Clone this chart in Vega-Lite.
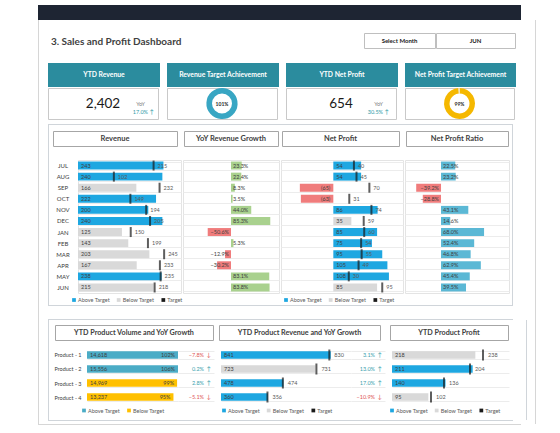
{
"$schema": "https://vega.github.io/schema/vega-lite/v6.json",
"padding": {"left": 38, "top": 5, "right": 0, "bottom": 0},
"background": "#ffffff",
"config": {"font": "Lato", "view": {"stroke": null}, "text": {"font": "Lato"}, "concat": {"spacing": 0}},
"datasets": {
"monthly": [
{"month":"JUL","revenue":243,"revTarget":215,"yoy":0.233,"np":54,"npTarget":40,"ratio":0.225},
{"month":"AUG","revenue":240,"revTarget":102,"yoy":0.224,"np":54,"npTarget":45,"ratio":0.232},
{"month":"SEP","revenue":166,"revTarget":232,"yoy":0.083,"np":-65,"npTarget":70,"ratio":-0.392},
{"month":"OCT","revenue":222,"revTarget":149,"yoy":0.035,"np":-63,"npTarget":31,"ratio":-0.288},
{"month":"NOV","revenue":200,"revTarget":194,"yoy":0.44,"np":86,"npTarget":74,"ratio":0.431},
{"month":"DEC","revenue":240,"revTarget":205,"yoy":0.853,"np":35,"npTarget":59,"ratio":0.146},
{"month":"JAN","revenue":125,"revTarget":150,"yoy":-0.506,"np":85,"npTarget":60,"ratio":0.68},
{"month":"FEB","revenue":143,"revTarget":199,"yoy":0.053,"np":75,"npTarget":54,"ratio":0.524},
{"month":"MAR","revenue":203,"revTarget":245,"yoy":-0.129,"np":95,"npTarget":55,"ratio":0.468},
{"month":"APR","revenue":167,"revTarget":233,"yoy":-0.302,"np":105,"npTarget":49,"ratio":0.629},
{"month":"MAY","revenue":238,"revTarget":235,"yoy":0.831,"np":108,"npTarget":30,"ratio":0.454},
{"month":"JUN","revenue":215,"revTarget":218,"yoy":0.838,"np":85,"npTarget":95,"ratio":0.395}
],
"products": [
{"product":"Product - 1","vol":14618,"volAch":1.02,"volYoy":-0.078,"rev":841,"revTarget":830,"revYoy":0.031,"profit":218,"profitTarget":238},
{"product":"Product - 2","vol":15556,"volAch":1.06,"volYoy":0.002,"rev":723,"revTarget":731,"revYoy":0.13,"profit":211,"profitTarget":204},
{"product":"Product - 3","vol":14969,"volAch":0.99,"volYoy":0.028,"rev":478,"revTarget":474,"revYoy":0.17,"profit":140,"profitTarget":136},
{"product":"Product - 4","vol":13237,"volAch":0.95,"volYoy":-0.051,"rev":360,"revTarget":356,"revYoy":-0.109,"profit":95,"profitTarget":102}
]
},
"spacing": 0,
"vconcat": [
{"width": 483, "height": 15, "data": {"values": []}, "mark": "point", "encoding": {}, "view": {"fill": "#1e2533"}},
{"spacing": 8, "hconcat": [
 {"width": 1, "height": 404, "data": {"values": []}, "mark": "point", "encoding": {}, "view": {"fill": "#d6d6d6"}},
 {"spacing": 0, "vconcat": [
  {"width": 1, "height": 12, "data": {"values": []}, "mark": "point", "encoding": {}},
  {"spacing": -2, "hconcat": [
   {"width": 316, "height": 17, "data": {"values": [{"t": "3. Sales and Profit Dashboard"}]}, "mark": {"type": "text", "align": "left", "dx": 3, "fontSize": 10, "fontWeight": "bold", "color": "#3f3f3f"}, "encoding": {"text": {"field": "t"}, "x": {"datum": 0, "type": "quantitative", "scale": {"domain": [0, 1]}, "axis": null}}},
   {"width": 71, "height": 15, "view": {"stroke": "#bfbfbf"}, "data": {"values": [{"h": "Select Month"}]}, "mark": {"type": "text", "fontSize": 6, "fontWeight": "bold", "color": "#1a1a1a"}, "encoding": {"text": {"field": "h"}}},
   {"width": 79, "height": 15, "view": {"stroke": "#bfbfbf"}, "data": {"values": [{"h": "JUN"}]}, "mark": {"type": "text", "fontSize": 6, "fontWeight": "bold", "color": "#1a1a1a"}, "encoding": {"text": {"field": "h"}}}
  ]},
  {"width": 1, "height": 13, "data": {"values": []}, "mark": "point", "encoding": {}},
  {"spacing": 6, "hconcat": [
   {"spacing": 0, "vconcat": [
    {"width": 112, "height": 24, "view": {"fill": "#2b8c9e"}, "data": {"values": [{"h": "YTD Revenue"}]}, "mark": {"type": "text", "color": "white", "fontWeight": "bold", "fontSize": 6.8}, "encoding": {"text": {"field": "h"}}},
    {"width": 110, "height": 31, "view": {"stroke": "#c9c9c9"}, "data": {"values": [{"value": 2402, "yoy": 0.17}]}, "layer": [
     {"mark": {"type": "text", "fontSize": 13.5, "color": "#1a1a1a"}, "encoding": {"text": {"field": "value", "type": "quantitative", "format": ","}}},
     {"mark": {"type": "text", "text": "YoY", "fontSize": 5.5, "color": "#7f7f7f", "align": "right", "dx": 42, "dy": 0}, "encoding": {}},
     {"mark": {"type": "text", "fontSize": 5.5, "color": "#2e9aa8", "align": "right", "dx": 45, "dy": 8}, "encoding": {"text": {"field": "yoy", "type": "quantitative", "format": ".1%"}}},
     {"mark": {"type": "text", "text": "↑", "fontSize": 6, "color": "#2e9aa8", "align": "right", "dx": 51, "dy": 8}, "encoding": {}}
    ]}
   ]},
   {"spacing": 0, "vconcat": [
    {"width": 112, "height": 24, "view": {"fill": "#2b8c9e"}, "data": {"values": [{"h": "Revenue Target Achievement"}]}, "mark": {"type": "text", "color": "white", "fontWeight": "bold", "fontSize": 6.8}, "encoding": {"text": {"field": "h"}}},
    {"width": 110, "height": 31, "view": {"stroke": "#c9c9c9"}, "layer": [
     {"data": {"values": [{"part": "Achieved", "v": 1.01}, {"part": "Remaining", "v": 0}]}, "mark": {"type": "arc", "radius": 15.5, "radius2": 10}, "encoding": {"theta": {"field": "v", "type": "quantitative", "scale": {"domain": [0, 1]}}, "color": {"condition": {"test": "datum.part == 'Achieved'", "value": "#38a6c3"}, "value": "#e6e6e6"}}},
     {"data": {"values": [{"pct": 1.01}]}, "mark": {"type": "text", "fontSize": 5, "fontWeight": "bold", "color": "#262626"}, "encoding": {"text": {"field": "pct", "type": "quantitative", "format": ".0%"}}}
    ]}
   ]},
   {"spacing": 0, "vconcat": [
    {"width": 112, "height": 24, "view": {"fill": "#2b8c9e"}, "data": {"values": [{"h": "YTD Net Profit"}]}, "mark": {"type": "text", "color": "white", "fontWeight": "bold", "fontSize": 6.8}, "encoding": {"text": {"field": "h"}}},
    {"width": 110, "height": 31, "view": {"stroke": "#c9c9c9"}, "data": {"values": [{"value": 654, "yoy": 0.305}]}, "layer": [
     {"mark": {"type": "text", "fontSize": 13.5, "color": "#1a1a1a"}, "encoding": {"text": {"field": "value", "type": "quantitative", "format": ","}}},
     {"mark": {"type": "text", "text": "YoY", "fontSize": 5.5, "color": "#7f7f7f", "align": "right", "dx": 42, "dy": 0}, "encoding": {}},
     {"mark": {"type": "text", "fontSize": 5.5, "color": "#2e9aa8", "align": "right", "dx": 42, "dy": 8}, "encoding": {"text": {"field": "yoy", "type": "quantitative", "format": ".1%"}}},
     {"mark": {"type": "text", "text": "↑", "fontSize": 6, "color": "#2e9aa8", "align": "right", "dx": 48, "dy": 8}, "encoding": {}}
    ]}
   ]},
   {"spacing": 0, "vconcat": [
    {"width": 111, "height": 24, "view": {"fill": "#2b8c9e"}, "data": {"values": [{"h": "Net Profit Target Achievement"}]}, "mark": {"type": "text", "color": "white", "fontWeight": "bold", "fontSize": 6.8}, "encoding": {"text": {"field": "h"}}},
    {"width": 109, "height": 31, "view": {"stroke": "#c9c9c9"}, "layer": [
     {"data": {"values": [{"part": "Achieved", "v": 0.99}, {"part": "Remaining", "v": 0.01}]}, "mark": {"type": "arc", "radius": 15.5, "radius2": 10}, "encoding": {"theta": {"field": "v", "type": "quantitative", "scale": {"domain": [0, 1]}}, "color": {"condition": {"test": "datum.part == 'Achieved'", "value": "#f5b800"}, "value": "#ececec"}}},
     {"data": {"values": [{"pct": 0.99}]}, "mark": {"type": "text", "fontSize": 5, "fontWeight": "bold", "color": "#262626"}, "encoding": {"text": {"field": "pct", "type": "quantitative", "format": ".0%"}}}
    ]}
   ]}
  ]},
  {"width": 1, "height": 4, "data": {"values": []}, "mark": "point", "encoding": {}},
  {"spacing": 0, "vconcat": [
   {"width": 465, "height": 1, "data": {"values": []}, "mark": "point", "encoding": {}, "view": {"fill": "#d0d5da"}},
   {"spacing": 0, "hconcat": [
    {"width": 1, "height": 180, "data": {"values": []}, "mark": "point", "encoding": {}, "view": {"fill": "#d0d5da"}},
    {"spacing": 0, "vconcat": [
     {"width": 1, "height": 5, "data": {"values": []}, "mark": "point", "encoding": {}},
     {"spacing": 0, "hconcat": [
      {"width": 3, "height": 1, "data": {"values": []}, "mark": "point", "encoding": {}},
      {"width": 124, "height": 15, "view": {"stroke": "#a6a6a6"}, "data": {"values": [{"h": "Revenue"}]}, "mark": {"type": "text", "fontSize": 7.5, "fontWeight": "bold", "color": "#404040"}, "encoding": {"text": {"field": "h"}}},
      {"width": 5, "height": 1, "data": {"values": []}, "mark": "point", "encoding": {}},
      {"width": 94, "height": 15, "view": {"stroke": "#a6a6a6"}, "data": {"values": [{"h": "YoY Revenue Growth"}]}, "mark": {"type": "text", "fontSize": 7.5, "fontWeight": "bold", "color": "#404040"}, "encoding": {"text": {"field": "h"}}},
      {"width": 2, "height": 1, "data": {"values": []}, "mark": "point", "encoding": {}},
      {"width": 117, "height": 15, "view": {"stroke": "#a6a6a6"}, "data": {"values": [{"h": "Net Profit"}]}, "mark": {"type": "text", "fontSize": 7.5, "fontWeight": "bold", "color": "#404040"}, "encoding": {"text": {"field": "h"}}},
      {"width": 5, "height": 1, "data": {"values": []}, "mark": "point", "encoding": {}},
      {"width": 102, "height": 15, "view": {"stroke": "#a6a6a6"}, "data": {"values": [{"h": "Net Profit Ratio"}]}, "mark": {"type": "text", "fontSize": 7.5, "fontWeight": "bold", "color": "#404040"}, "encoding": {"text": {"field": "h"}}}
     ]},
     {"width": 1, "height": 12, "data": {"values": []}, "mark": "point", "encoding": {}},
     {"spacing": 0, "hconcat": [
      {"width": 28, "height": 134, "data": {"name": "monthly"}, "mark": {"type": "text", "fontSize": 6, "color": "#404040"}, "encoding": {"y": {"field": "month", "type": "nominal", "scale": {"domain": ["JUL","AUG","SEP","OCT","NOV","DEC","JAN","FEB","MAR","APR","MAY","JUN"], "paddingInner": 0.28, "paddingOuter": 0.14}, "axis": null}, "text": {"field": "month"}}},
      {"width": 103, "height": 133, "data": {"name": "monthly"}, "view": {"stroke": "#e4e4e4"},
       "encoding": {"y": {"field": "month", "type": "nominal", "scale": {"domain": ["JUL","AUG","SEP","OCT","NOV","DEC","JAN","FEB","MAR","APR","MAY","JUN"], "paddingInner": 0.28, "paddingOuter": 0.14}, "axis": {"title": null, "labels": false, "ticks": false, "domain": false, "grid": true, "tickBand": "extent", "gridColor": "#ececec"}}},
       "layer": [
        {"mark": {"type": "bar"}, "encoding": {"x": {"field": "revenue", "type": "quantitative", "scale": {"domain": [0, 293]}, "axis": null}, "color": {"condition": {"test": "datum.revenue >= datum.revTarget", "value": "#1ea7e1"}, "value": "#d9d9d9"}}},
        {"mark": {"type": "tick", "thickness": 2, "size": 10, "color": "#1a1a1a"}, "encoding": {"x": {"field": "revTarget", "type": "quantitative", "scale": {"domain": [0, 293]}, "axis": null}}},
        {"mark": {"type": "text", "align": "left", "dx": 3, "fontSize": 5.5, "color": "#404040"}, "encoding": {"x": {"datum": 0, "type": "quantitative", "scale": {"domain": [0, 293]}, "axis": null}, "text": {"field": "revenue", "type": "quantitative"}}},
        {"mark": {"type": "text", "align": "left", "dx": 4, "fontSize": 5.5, "color": "#595959"}, "encoding": {"x": {"field": "revTarget", "type": "quantitative", "scale": {"domain": [0, 293]}, "axis": null}, "text": {"field": "revTarget", "type": "quantitative"}}}
       ]},
      {"width": 96, "height": 133, "data": {"name": "monthly"}, "view": {"stroke": "#e4e4e4"},
       "encoding": {"y": {"field": "month", "type": "nominal", "scale": {"domain": ["JUL","AUG","SEP","OCT","NOV","DEC","JAN","FEB","MAR","APR","MAY","JUN"], "paddingInner": 0.28, "paddingOuter": 0.14}, "axis": {"title": null, "labels": false, "ticks": false, "domain": false, "grid": true, "tickBand": "extent", "gridColor": "#ececec"}}},
       "layer": [
        {"mark": {"type": "bar"}, "encoding": {"x": {"field": "yoy", "type": "quantitative", "scale": {"domain": [-1.043, 1.043]}, "axis": null}, "color": {"condition": {"test": "datum.yoy < 0", "value": "#f07c7c"}, "value": "#a9d18e"}}},
        {"transform": [{"filter": "datum.yoy >= 0"}], "mark": {"type": "text", "align": "left", "dx": 2, "fontSize": 5.5, "color": "#404040"}, "encoding": {"x": {"datum": 0, "type": "quantitative", "scale": {"domain": [-1.043, 1.043]}, "axis": null}, "text": {"field": "yoy", "type": "quantitative", "format": ".1%"}}},
        {"transform": [{"filter": "datum.yoy < 0"}], "mark": {"type": "text", "align": "right", "dx": -2, "fontSize": 5.5, "color": "#404040"}, "encoding": {"x": {"datum": 0, "type": "quantitative", "scale": {"domain": [-1.043, 1.043]}, "axis": null}, "text": {"field": "yoy", "type": "quantitative", "format": ".1%"}}}
       ]},
      {"width": 122, "height": 133, "data": {"name": "monthly"}, "view": {"stroke": "#e4e4e4"},
       "encoding": {"y": {"field": "month", "type": "nominal", "scale": {"domain": ["JUL","AUG","SEP","OCT","NOV","DEC","JAN","FEB","MAR","APR","MAY","JUN"], "paddingInner": 0.28, "paddingOuter": 0.14}, "axis": {"title": null, "labels": false, "ticks": false, "domain": false, "grid": true, "tickBand": "extent", "gridColor": "#ececec"}}},
       "layer": [
        {"mark": {"type": "bar"}, "encoding": {"x": {"field": "np", "type": "quantitative", "scale": {"domain": [-101.6, 135.3]}, "axis": null}, "color": {"condition": [{"test": "datum.np < 0", "value": "#f07c7c"}, {"test": "datum.np >= datum.npTarget", "value": "#1ea7e1"}], "value": "#d9d9d9"}}},
        {"mark": {"type": "tick", "thickness": 2, "size": 10, "color": "#1a1a1a"}, "encoding": {"x": {"field": "npTarget", "type": "quantitative", "scale": {"domain": [-101.6, 135.3]}, "axis": null}}},
        {"transform": [{"filter": "datum.np >= 0"}], "mark": {"type": "text", "align": "left", "dx": 3, "fontSize": 5.5, "color": "#404040"}, "encoding": {"x": {"datum": 0, "type": "quantitative", "scale": {"domain": [-101.6, 135.3]}, "axis": null}, "text": {"field": "np", "type": "quantitative", "format": "(d"}}},
        {"transform": [{"filter": "datum.np < 0"}], "mark": {"type": "text", "align": "right", "dx": -3, "fontSize": 5.5, "color": "#404040"}, "encoding": {"x": {"datum": 0, "type": "quantitative", "scale": {"domain": [-101.6, 135.3]}, "axis": null}, "text": {"field": "np", "type": "quantitative", "format": "(d"}}},
        {"mark": {"type": "text", "align": "left", "dx": 4, "fontSize": 5.5, "color": "#595959"}, "encoding": {"x": {"field": "npTarget", "type": "quantitative", "scale": {"domain": [-101.6, 135.3]}, "axis": null}, "text": {"field": "npTarget", "type": "quantitative"}}}
       ]},
      {"width": 104, "height": 133, "data": {"name": "monthly"}, "view": {"stroke": "#e4e4e4"},
       "encoding": {"y": {"field": "month", "type": "nominal", "scale": {"domain": ["JUL","AUG","SEP","OCT","NOV","DEC","JAN","FEB","MAR","APR","MAY","JUN"], "paddingInner": 0.28, "paddingOuter": 0.14}, "axis": {"title": null, "labels": false, "ticks": false, "domain": false, "grid": true, "tickBand": "extent", "gridColor": "#ececec"}}},
       "layer": [
        {"mark": {"type": "bar"}, "encoding": {"x": {"field": "ratio", "type": "quantitative", "scale": {"domain": [-0.569, 1.074]}, "axis": null}, "color": {"condition": {"test": "datum.ratio < 0", "value": "#f07c7c"}, "value": "#5bb8d5"}}},
        {"transform": [{"filter": "datum.ratio >= 0"}], "mark": {"type": "text", "align": "left", "dx": 2, "fontSize": 5.5, "color": "#404040"}, "encoding": {"x": {"datum": 0, "type": "quantitative", "scale": {"domain": [-0.569, 1.074]}, "axis": null}, "text": {"field": "ratio", "type": "quantitative", "format": ".1%"}}},
        {"transform": [{"filter": "datum.ratio < 0"}], "mark": {"type": "text", "align": "right", "dx": -2, "fontSize": 5.5, "color": "#404040"}, "encoding": {"x": {"datum": 0, "type": "quantitative", "scale": {"domain": [-0.569, 1.074]}, "axis": null}, "text": {"field": "ratio", "type": "quantitative", "format": ".1%"}}}
       ]},
      {"width": 2, "height": 1, "data": {"values": []}, "mark": "point", "encoding": {}}
     ]},
     {"width": 1, "height": 1, "data": {"values": []}, "mark": "point", "encoding": {}},
     {"spacing": 0, "hconcat": [
      {"width": 23, "height": 1, "data": {"values": []}, "mark": "point", "encoding": {}},
      {"width": 134, "height": 10, "data": {"values": [{"k": "Above Target"}, {"k": "Below Target"}, {"k": "Target"}]}, "encoding": {"x": {"field": "k", "type": "nominal", "scale": {"type": "point", "padding": 0, "domain": ["Above Target", "Below Target", "Target", "~"]}, "axis": null}}, "layer": [
       {"mark": {"type": "square", "size": 14, "opacity": 1}, "encoding": {"color": {"condition": [{"test": "datum.k == 'Above Target'", "value": "#1ea7e1"}, {"test": "datum.k == 'Target'", "value": "#1a1a1a"}], "value": "#d9d9d9"}}},
       {"mark": {"type": "text", "align": "left", "dx": 4, "fontSize": 5.5, "color": "#595959"}, "encoding": {"text": {"field": "k"}}}
      ]},
      {"width": 76, "height": 1, "data": {"values": []}, "mark": "point", "encoding": {}},
      {"width": 134, "height": 10, "data": {"values": [{"k": "Above Target"}, {"k": "Below Target"}, {"k": "Target"}]}, "encoding": {"x": {"field": "k", "type": "nominal", "scale": {"type": "point", "padding": 0, "domain": ["Above Target", "Below Target", "Target", "~"]}, "axis": null}}, "layer": [
       {"mark": {"type": "square", "size": 14, "opacity": 1}, "encoding": {"color": {"condition": [{"test": "datum.k == 'Above Target'", "value": "#1ea7e1"}, {"test": "datum.k == 'Target'", "value": "#1a1a1a"}], "value": "#d9d9d9"}}},
       {"mark": {"type": "text", "align": "left", "dx": 4, "fontSize": 5.5, "color": "#595959"}, "encoding": {"text": {"field": "k"}}}
      ]}
     ]}
    ]},
    {"width": 1, "height": 180, "data": {"values": []}, "mark": "point", "encoding": {}, "view": {"fill": "#d0d5da"}}
   ]},
   {"width": 465, "height": 1, "data": {"values": []}, "mark": "point", "encoding": {}, "view": {"fill": "#d0d5da"}}
  ]},
  {"width": 1, "height": 13, "data": {"values": []}, "mark": "point", "encoding": {}},
  {"spacing": 0, "vconcat": [
   {"width": 465, "height": 1, "data": {"values": []}, "mark": "point", "encoding": {}, "view": {"fill": "#d0d5da"}},
   {"spacing": 0, "hconcat": [
    {"width": 1, "height": 100, "data": {"values": []}, "mark": "point", "encoding": {}, "view": {"fill": "#d0d5da"}},
    {"spacing": 0, "vconcat": [
     {"width": 1, "height": 4, "data": {"values": []}, "mark": "point", "encoding": {}},
     {"spacing": 0, "hconcat": [
      {"width": 5, "height": 1, "data": {"values": []}, "mark": "point", "encoding": {}},
      {"width": 158, "height": 15, "view": {"stroke": "#a6a6a6"}, "data": {"values": [{"h": "YTD Product Volume and YoY Growth"}]}, "mark": {"type": "text", "fontSize": 7.2, "fontWeight": "bold", "color": "#404040"}, "encoding": {"text": {"field": "h"}}},
      {"width": 4, "height": 1, "data": {"values": []}, "mark": "point", "encoding": {}},
      {"width": 161, "height": 15, "view": {"stroke": "#a6a6a6"}, "data": {"values": [{"h": "YTD Product Revenue and YoY Growth"}]}, "mark": {"type": "text", "fontSize": 7.2, "fontWeight": "bold", "color": "#404040"}, "encoding": {"text": {"field": "h"}}},
      {"width": 8, "height": 1, "data": {"values": []}, "mark": "point", "encoding": {}},
      {"width": 118, "height": 15, "view": {"stroke": "#a6a6a6"}, "data": {"values": [{"h": "YTD Product Profit"}]}, "mark": {"type": "text", "fontSize": 7.2, "fontWeight": "bold", "color": "#404040"}, "encoding": {"text": {"field": "h"}}},
      {"width": 3, "height": 1, "data": {"values": []}, "mark": "point", "encoding": {}}
     ]},
     {"width": 1, "height": 7, "data": {"values": []}, "mark": "point", "encoding": {}},
     {"spacing": 0, "hconcat": [
      {"width": 38, "height": 57, "data": {"name": "products"}, "mark": {"type": "text", "fontSize": 5.5, "color": "#404040"}, "encoding": {"y": {"field": "product", "type": "nominal", "scale": {"domain": ["Product - 1","Product - 2","Product - 3","Product - 4"], "paddingInner": 0.45, "paddingOuter": 0.225}, "axis": null}, "text": {"field": "product"}}},
      {"width": 91, "height": 56, "data": {"name": "products"},
       "encoding": {"y": {"field": "product", "type": "nominal", "scale": {"domain": ["Product - 1","Product - 2","Product - 3","Product - 4"], "paddingInner": 0.45, "paddingOuter": 0.225}, "axis": {"title": null, "labels": false, "ticks": false, "domain": false, "grid": true, "tickBand": "extent", "gridColor": "#ececec"}}},
       "layer": [
        {"mark": {"type": "bar"}, "encoding": {"x": {"field": "volAch", "type": "quantitative", "scale": {"domain": [0, 1], "clamp": true}, "axis": null}, "color": {"condition": {"test": "datum.volAch >= 1", "value": "#4bacc6"}, "value": "#ffc000"}}},
        {"mark": {"type": "text", "align": "left", "dx": 3, "fontSize": 5.5, "color": "#404040"}, "encoding": {"x": {"datum": 0, "type": "quantitative", "scale": {"domain": [0, 1], "clamp": true}, "axis": null}, "text": {"field": "vol", "type": "quantitative", "format": ","}}},
        {"mark": {"type": "text", "align": "right", "dx": -3, "fontSize": 5.5, "color": "#404040"}, "encoding": {"x": {"field": "volAch", "type": "quantitative", "scale": {"domain": [0, 1], "clamp": true}, "axis": null}, "text": {"field": "volAch", "type": "quantitative", "format": ".0%"}}}
       ]},
      {"width": 36, "height": 56, "data": {"name": "products"},
       "encoding": {"y": {"field": "product", "type": "nominal", "scale": {"domain": ["Product - 1","Product - 2","Product - 3","Product - 4"], "paddingInner": 0.45, "paddingOuter": 0.225}, "axis": {"title": null, "labels": false, "ticks": false, "domain": false, "grid": true, "tickBand": "extent", "gridColor": "#ececec"}}},
       "layer": [
        {"mark": {"type": "text", "align": "right", "dx": -10, "fontSize": 5.5}, "encoding": {"x": {"datum": 1, "type": "quantitative", "scale": {"domain": [0, 1]}, "axis": null}, "text": {"field": "volYoy", "type": "quantitative", "format": ".1%"}, "color": {"condition": {"test": "datum.volYoy < 0", "value": "#e05555"}, "value": "#3a9fae"}}},
        {"mark": {"type": "text", "align": "right", "dx": -3, "fontSize": 6}, "encoding": {"x": {"datum": 1, "type": "quantitative", "scale": {"domain": [0, 1]}, "axis": null}, "text": {"condition": {"test": "datum.volYoy < 0", "value": "↓"}, "value": "↑"}, "color": {"condition": {"test": "datum.volYoy < 0", "value": "#e05555"}, "value": "#3a9fae"}}}
       ]},
      {"width": 7, "height": 1, "data": {"values": []}, "mark": "point", "encoding": {}},
      {"width": 130, "height": 56, "data": {"name": "products"},
       "encoding": {"y": {"field": "product", "type": "nominal", "scale": {"domain": ["Product - 1","Product - 2","Product - 3","Product - 4"], "paddingInner": 0.45, "paddingOuter": 0.225}, "axis": {"title": null, "labels": false, "ticks": false, "domain": false, "grid": true, "tickBand": "extent", "gridColor": "#ececec"}}},
       "layer": [
        {"mark": {"type": "bar"}, "encoding": {"x": {"field": "rev", "type": "quantitative", "scale": {"domain": [0, 996]}, "axis": null}, "color": {"condition": {"test": "datum.rev >= datum.revTarget", "value": "#1ea7e1"}, "value": "#d9d9d9"}}},
        {"mark": {"type": "tick", "thickness": 2, "size": 11, "color": "#1a1a1a"}, "encoding": {"x": {"field": "revTarget", "type": "quantitative", "scale": {"domain": [0, 996]}, "axis": null}}},
        {"mark": {"type": "text", "align": "left", "dx": 3, "fontSize": 5.5, "color": "#404040"}, "encoding": {"x": {"datum": 0, "type": "quantitative", "scale": {"domain": [0, 996]}, "axis": null}, "text": {"field": "rev", "type": "quantitative"}}},
        {"mark": {"type": "text", "align": "left", "dx": 5, "fontSize": 5.5, "color": "#595959"}, "encoding": {"x": {"field": "revTarget", "type": "quantitative", "scale": {"domain": [0, 996]}, "axis": null}, "text": {"field": "revTarget", "type": "quantitative"}}}
       ]},
      {"width": 34, "height": 56, "data": {"name": "products"},
       "encoding": {"y": {"field": "product", "type": "nominal", "scale": {"domain": ["Product - 1","Product - 2","Product - 3","Product - 4"], "paddingInner": 0.45, "paddingOuter": 0.225}, "axis": {"title": null, "labels": false, "ticks": false, "domain": false, "grid": true, "tickBand": "extent", "gridColor": "#ececec"}}},
       "layer": [
        {"mark": {"type": "text", "align": "right", "dx": -10, "fontSize": 5.5}, "encoding": {"x": {"datum": 1, "type": "quantitative", "scale": {"domain": [0, 1]}, "axis": null}, "text": {"field": "revYoy", "type": "quantitative", "format": ".1%"}, "color": {"condition": {"test": "datum.revYoy < 0", "value": "#e05555"}, "value": "#3a9fae"}}},
        {"mark": {"type": "text", "align": "right", "dx": -3, "fontSize": 6}, "encoding": {"x": {"datum": 1, "type": "quantitative", "scale": {"domain": [0, 1]}, "axis": null}, "text": {"condition": {"test": "datum.revYoy < 0", "value": "↓"}, "value": "↑"}, "color": {"condition": {"test": "datum.revYoy < 0", "value": "#e05555"}, "value": "#3a9fae"}}}
       ]},
      {"width": 7, "height": 1, "data": {"values": []}, "mark": "point", "encoding": {}},
      {"width": 117, "height": 56, "data": {"name": "products"},
       "encoding": {"y": {"field": "product", "type": "nominal", "scale": {"domain": ["Product - 1","Product - 2","Product - 3","Product - 4"], "paddingInner": 0.45, "paddingOuter": 0.225}, "axis": {"title": null, "labels": false, "ticks": false, "domain": false, "grid": true, "tickBand": "extent", "gridColor": "#ececec"}}},
       "layer": [
        {"mark": {"type": "bar"}, "encoding": {"x": {"field": "profit", "type": "quantitative", "scale": {"domain": [0, 306]}, "axis": null}, "color": {"condition": {"test": "datum.profit >= datum.profitTarget", "value": "#1ea7e1"}, "value": "#d9d9d9"}}},
        {"mark": {"type": "tick", "thickness": 2, "size": 11, "color": "#1a1a1a"}, "encoding": {"x": {"field": "profitTarget", "type": "quantitative", "scale": {"domain": [0, 306]}, "axis": null}}},
        {"mark": {"type": "text", "align": "left", "dx": 3, "fontSize": 5.5, "color": "#404040"}, "encoding": {"x": {"datum": 0, "type": "quantitative", "scale": {"domain": [0, 306]}, "axis": null}, "text": {"field": "profit", "type": "quantitative"}}},
        {"mark": {"type": "text", "align": "left", "dx": 5, "fontSize": 5.5, "color": "#595959"}, "encoding": {"x": {"field": "profitTarget", "type": "quantitative", "scale": {"domain": [0, 306]}, "axis": null}, "text": {"field": "profitTarget", "type": "quantitative"}}}
       ]},
      {"width": 3, "height": 1, "data": {"values": []}, "mark": "point", "encoding": {}}
     ]},
     {"spacing": 0, "hconcat": [
      {"width": 33, "height": 1, "data": {"values": []}, "mark": "point", "encoding": {}},
      {"width": 90, "height": 11, "data": {"values": [{"k": "Above Target"}, {"k": "Below Target"}]}, "encoding": {"x": {"field": "k", "type": "nominal", "scale": {"type": "point", "padding": 0, "domain": ["Above Target", "Below Target", "~"]}, "axis": null}}, "layer": [
       {"mark": {"type": "square", "size": 14, "opacity": 1}, "encoding": {"color": {"condition": {"test": "datum.k == 'Above Target'", "value": "#4bacc6"}, "value": "#ffc000"}}},
       {"mark": {"type": "text", "align": "left", "dx": 4, "fontSize": 5.5, "color": "#595959"}, "encoding": {"text": {"field": "k"}}}
      ]},
      {"width": 48, "height": 1, "data": {"values": []}, "mark": "point", "encoding": {}},
      {"width": 134, "height": 11, "data": {"values": [{"k": "Above Target"}, {"k": "Below Target"}, {"k": "Target"}]}, "encoding": {"x": {"field": "k", "type": "nominal", "scale": {"type": "point", "padding": 0, "domain": ["Above Target", "Below Target", "Target", "~"]}, "axis": null}}, "layer": [
       {"mark": {"type": "square", "size": 14, "opacity": 1}, "encoding": {"color": {"condition": [{"test": "datum.k == 'Above Target'", "value": "#1ea7e1"}, {"test": "datum.k == 'Target'", "value": "#1a1a1a"}], "value": "#d9d9d9"}}},
       {"mark": {"type": "text", "align": "left", "dx": 4, "fontSize": 5.5, "color": "#595959"}, "encoding": {"text": {"field": "k"}}}
      ]},
      {"width": 32, "height": 1, "data": {"values": []}, "mark": "point", "encoding": {}},
      {"width": 134, "height": 11, "data": {"values": [{"k": "Above Target"}, {"k": "Below Target"}, {"k": "Target"}]}, "encoding": {"x": {"field": "k", "type": "nominal", "scale": {"type": "point", "padding": 0, "domain": ["Above Target", "Below Target", "Target", "~"]}, "axis": null}}, "layer": [
       {"mark": {"type": "square", "size": 14, "opacity": 1}, "encoding": {"color": {"condition": [{"test": "datum.k == 'Above Target'", "value": "#1ea7e1"}, {"test": "datum.k == 'Target'", "value": "#1a1a1a"}], "value": "#d9d9d9"}}},
       {"mark": {"type": "text", "align": "left", "dx": 4, "fontSize": 5.5, "color": "#595959"}, "encoding": {"text": {"field": "k"}}}
      ]}
     ]}
    ]},
    {"width": 1, "height": 100, "data": {"values": []}, "mark": "point", "encoding": {}, "view": {"fill": "#d0d5da"}}
   ]},
   {"width": 465, "height": 1, "data": {"values": []}, "mark": "point", "encoding": {}, "view": {"fill": "#d0d5da"}}
  ]}
 ]},
 {"width": 1, "height": 404, "data": {"values": []}, "mark": "point", "encoding": {}, "view": {"fill": "#d6d6d6"}}
]},
{"width": 483, "height": 1, "data": {"values": []}, "mark": "point", "encoding": {}, "view": {"fill": "#d6d6d6"}}
]
}
